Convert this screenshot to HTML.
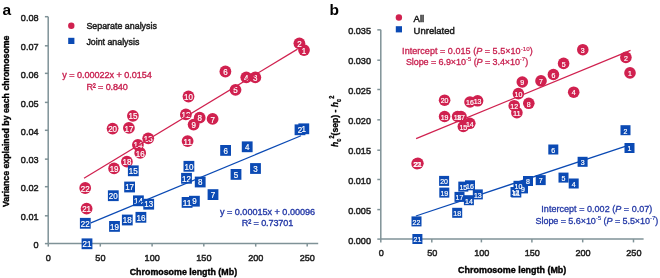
<!DOCTYPE html><html><head><meta charset="utf-8"><style>html,body{margin:0;padding:0;background:#fff;width:660px;height:278px;overflow:hidden}svg{display:block;filter:blur(0.35px)}</style></head><body>
<svg width="660" height="278" viewBox="0 0 660 278" font-family="'Liberation Sans', Arial, sans-serif">
<rect width="660" height="278" fill="#fff"/>
<g stroke="#7F9297" stroke-width="1.5" fill="none">
<line x1="48.2" y1="16.70" x2="48.2" y2="243.60"/>
<line x1="48.2" y1="243.60" x2="318.2" y2="243.60"/>
<line x1="44.9" y1="243.60" x2="48.2" y2="243.60"/>
<line x1="44.9" y1="215.80" x2="48.2" y2="215.80"/>
<line x1="44.9" y1="186.70" x2="48.2" y2="186.70"/>
<line x1="44.9" y1="159.15" x2="48.2" y2="159.15"/>
<line x1="44.9" y1="130.30" x2="48.2" y2="130.30"/>
<line x1="44.9" y1="102.40" x2="48.2" y2="102.40"/>
<line x1="44.9" y1="73.35" x2="48.2" y2="73.35"/>
<line x1="44.9" y1="45.80" x2="48.2" y2="45.80"/>
<line x1="44.9" y1="16.70" x2="48.2" y2="16.70"/>
<line x1="48.30" y1="243.60" x2="48.30" y2="246.6"/>
<line x1="100.30" y1="243.60" x2="100.30" y2="246.6"/>
<line x1="152.10" y1="243.60" x2="152.10" y2="246.6"/>
<line x1="203.80" y1="243.60" x2="203.80" y2="246.6"/>
<line x1="255.70" y1="243.60" x2="255.70" y2="246.6"/>
<line x1="307.20" y1="243.60" x2="307.20" y2="246.6"/>
</g>
<text x="38.6" y="248.00" font-size="9.8" fill="#1E1E1E" stroke="#1E1E1E" stroke-width="0.5" text-anchor="end" textLength="5.07" lengthAdjust="spacingAndGlyphs">0</text>
<text x="38.6" y="220.10" font-size="9.8" fill="#1E1E1E" stroke="#1E1E1E" stroke-width="0.5" text-anchor="end" textLength="17.73" lengthAdjust="spacingAndGlyphs">0.01</text>
<text x="38.6" y="191.30" font-size="9.8" fill="#1E1E1E" stroke="#1E1E1E" stroke-width="0.5" text-anchor="end" textLength="17.73" lengthAdjust="spacingAndGlyphs">0.02</text>
<text x="38.6" y="163.10" font-size="9.8" fill="#1E1E1E" stroke="#1E1E1E" stroke-width="0.5" text-anchor="end" textLength="17.73" lengthAdjust="spacingAndGlyphs">0.03</text>
<text x="38.6" y="134.60" font-size="9.8" fill="#1E1E1E" stroke="#1E1E1E" stroke-width="0.5" text-anchor="end" textLength="17.73" lengthAdjust="spacingAndGlyphs">0.04</text>
<text x="38.6" y="106.70" font-size="9.8" fill="#1E1E1E" stroke="#1E1E1E" stroke-width="0.5" text-anchor="end" textLength="17.73" lengthAdjust="spacingAndGlyphs">0.05</text>
<text x="38.6" y="77.70" font-size="9.8" fill="#1E1E1E" stroke="#1E1E1E" stroke-width="0.5" text-anchor="end" textLength="17.73" lengthAdjust="spacingAndGlyphs">0.06</text>
<text x="38.6" y="49.70" font-size="9.8" fill="#1E1E1E" stroke="#1E1E1E" stroke-width="0.5" text-anchor="end" textLength="17.73" lengthAdjust="spacingAndGlyphs">0.07</text>
<text x="38.6" y="21.30" font-size="9.8" fill="#1E1E1E" stroke="#1E1E1E" stroke-width="0.5" text-anchor="end" textLength="17.73" lengthAdjust="spacingAndGlyphs">0.08</text>
<text x="48.40" y="260.5" font-size="9.8" fill="#1E1E1E" stroke="#1E1E1E" stroke-width="0.5" text-anchor="middle" textLength="5.07" lengthAdjust="spacingAndGlyphs">0</text>
<text x="100.40" y="260.5" font-size="9.8" fill="#1E1E1E" stroke="#1E1E1E" stroke-width="0.5" text-anchor="middle" textLength="10.14" lengthAdjust="spacingAndGlyphs">50</text>
<text x="152.20" y="260.5" font-size="9.8" fill="#1E1E1E" stroke="#1E1E1E" stroke-width="0.5" text-anchor="middle" textLength="15.21" lengthAdjust="spacingAndGlyphs">100</text>
<text x="203.90" y="260.5" font-size="9.8" fill="#1E1E1E" stroke="#1E1E1E" stroke-width="0.5" text-anchor="middle" textLength="15.21" lengthAdjust="spacingAndGlyphs">150</text>
<text x="255.80" y="260.5" font-size="9.8" fill="#1E1E1E" stroke="#1E1E1E" stroke-width="0.5" text-anchor="middle" textLength="15.21" lengthAdjust="spacingAndGlyphs">200</text>
<text x="307.30" y="260.5" font-size="9.8" fill="#1E1E1E" stroke="#1E1E1E" stroke-width="0.5" text-anchor="middle" textLength="15.21" lengthAdjust="spacingAndGlyphs">250</text>
<text x="183.4" y="274.6" font-size="9.6" fill="#000" stroke="#000" stroke-width="0.4" font-weight="bold" text-anchor="middle" textLength="107.4" lengthAdjust="spacingAndGlyphs">Chromosome length (Mb)</text>
<text x="0" y="0" font-size="9.6" fill="#000" stroke="#000" stroke-width="0.4" font-weight="bold" text-anchor="middle" textLength="171.4" lengthAdjust="spacingAndGlyphs" transform="translate(8.9,121.3) rotate(-90)">Variance explained by each chromosome</text>
<text x="2.4" y="14.7" font-size="15.5" fill="#000" font-weight="bold">a</text>
<circle cx="71.3" cy="25.8" r="3.2" fill="#D0214F"/>
<rect x="68.2" y="37.8" width="6.2" height="6.2" fill="#0B4AB4"/>
<text x="86.4" y="29.3" font-size="9.8" fill="#1E1E1E" stroke="#1E1E1E" stroke-width="0.5" textLength="70.5" lengthAdjust="spacingAndGlyphs">Separate analysis</text>
<text x="86.4" y="44.8" font-size="9.8" fill="#1E1E1E" stroke="#1E1E1E" stroke-width="0.5" textLength="52.9" lengthAdjust="spacingAndGlyphs">Joint analysis</text>
<text x="62.2" y="78.4" font-size="9.1" fill="#C8204F" stroke="#C8204F" stroke-width="0.35" textLength="89.6" lengthAdjust="spacing">y = 0.00022x + 0.0154</text>
<text x="86.4" y="89.6" font-size="9.1" fill="#C8204F" stroke="#C8204F" stroke-width="0.35" textLength="41.4" lengthAdjust="spacing">R² = 0.840</text>
<text x="220" y="214.9" font-size="9.1" fill="#2338A6" stroke="#2338A6" stroke-width="0.35" textLength="95.1" lengthAdjust="spacing">y = 0.00015x + 0.00096</text>
<text x="241.8" y="225.5" font-size="9.1" fill="#2338A6" stroke="#2338A6" stroke-width="0.35" textLength="51.5" lengthAdjust="spacing">R² = 0.73701</text>
<circle cx="304.0" cy="50.1" r="5.9" fill="#D0214F"/>
<circle cx="299.4" cy="43.3" r="5.9" fill="#D0214F"/>
<circle cx="255.3" cy="77.4" r="5.9" fill="#D0214F"/>
<circle cx="246.3" cy="77.3" r="5.9" fill="#D0214F"/>
<circle cx="235.5" cy="89.8" r="5.9" fill="#D0214F"/>
<circle cx="225.4" cy="71.5" r="5.9" fill="#D0214F"/>
<circle cx="212.6" cy="118.9" r="5.9" fill="#D0214F"/>
<circle cx="199.7" cy="117.7" r="5.9" fill="#D0214F"/>
<circle cx="193.6" cy="124.6" r="5.9" fill="#D0214F"/>
<circle cx="188.5" cy="96.5" r="5.9" fill="#D0214F"/>
<circle cx="187.6" cy="141.1" r="5.9" fill="#D0214F"/>
<circle cx="185.9" cy="114.4" r="5.9" fill="#D0214F"/>
<circle cx="148.2" cy="138.3" r="5.9" fill="#D0214F"/>
<circle cx="137.9" cy="144.8" r="5.9" fill="#D0214F"/>
<circle cx="132.9" cy="115.8" r="5.9" fill="#D0214F"/>
<circle cx="140.2" cy="152.9" r="5.9" fill="#D0214F"/>
<circle cx="128.9" cy="127.9" r="5.9" fill="#D0214F"/>
<circle cx="126.9" cy="161.7" r="5.9" fill="#D0214F"/>
<circle cx="114.1" cy="168.4" r="5.9" fill="#D0214F"/>
<circle cx="112.6" cy="128.6" r="5.9" fill="#D0214F"/>
<circle cx="86.6" cy="208.7" r="5.9" fill="#D0214F"/>
<circle cx="85.2" cy="188.0" r="5.9" fill="#D0214F"/>
<g fill="#fff" stroke="#fff" stroke-width="0.2" font-size="8.9" font-weight="normal" text-anchor="middle">
<text x="304.0" y="53.70" textLength="4.45" lengthAdjust="spacingAndGlyphs">1</text>
<text x="299.4" y="46.90" textLength="4.45" lengthAdjust="spacingAndGlyphs">2</text>
<text x="255.3" y="81.00" textLength="4.45" lengthAdjust="spacingAndGlyphs">3</text>
<text x="246.3" y="80.90" textLength="4.45" lengthAdjust="spacingAndGlyphs">4</text>
<text x="235.5" y="93.40" textLength="4.45" lengthAdjust="spacingAndGlyphs">5</text>
<text x="225.4" y="75.10" textLength="4.45" lengthAdjust="spacingAndGlyphs">6</text>
<text x="212.6" y="122.50" textLength="4.45" lengthAdjust="spacingAndGlyphs">7</text>
<text x="199.7" y="121.30" textLength="4.45" lengthAdjust="spacingAndGlyphs">8</text>
<text x="193.6" y="128.20" textLength="4.45" lengthAdjust="spacingAndGlyphs">9</text>
<text x="188.5" y="100.10" textLength="8.90" lengthAdjust="spacingAndGlyphs">10</text>
<text x="187.6" y="144.70" textLength="8.90" lengthAdjust="spacingAndGlyphs">11</text>
<text x="185.9" y="118.00" textLength="8.90" lengthAdjust="spacingAndGlyphs">12</text>
<text x="148.2" y="141.90" textLength="8.90" lengthAdjust="spacingAndGlyphs">13</text>
<text x="137.9" y="148.40" textLength="8.90" lengthAdjust="spacingAndGlyphs">14</text>
<text x="132.9" y="119.40" textLength="8.90" lengthAdjust="spacingAndGlyphs">15</text>
<text x="140.2" y="156.50" textLength="8.90" lengthAdjust="spacingAndGlyphs">16</text>
<text x="128.9" y="131.50" textLength="8.90" lengthAdjust="spacingAndGlyphs">17</text>
<text x="126.9" y="165.30" textLength="8.90" lengthAdjust="spacingAndGlyphs">18</text>
<text x="114.1" y="172.00" textLength="8.90" lengthAdjust="spacingAndGlyphs">19</text>
<text x="112.6" y="132.20" textLength="8.90" lengthAdjust="spacingAndGlyphs">20</text>
<text x="86.6" y="212.30" textLength="8.90" lengthAdjust="spacingAndGlyphs">21</text>
<text x="85.2" y="191.60" textLength="8.90" lengthAdjust="spacingAndGlyphs">22</text>
</g>
<rect x="298.40" y="123.40" width="10.8" height="10.8" fill="#0B4AB4"/>
<rect x="294.60" y="124.40" width="10.8" height="10.8" fill="#0B4AB4"/>
<rect x="250.10" y="163.10" width="10.8" height="10.8" fill="#0B4AB4"/>
<rect x="241.80" y="141.40" width="10.8" height="10.8" fill="#0B4AB4"/>
<rect x="230.60" y="169.00" width="10.8" height="10.8" fill="#0B4AB4"/>
<rect x="220.20" y="145.00" width="10.8" height="10.8" fill="#0B4AB4"/>
<rect x="207.60" y="189.20" width="10.8" height="10.8" fill="#0B4AB4"/>
<rect x="194.80" y="176.60" width="10.8" height="10.8" fill="#0B4AB4"/>
<rect x="189.00" y="195.80" width="10.8" height="10.8" fill="#0B4AB4"/>
<rect x="183.50" y="160.90" width="10.8" height="10.8" fill="#0B4AB4"/>
<rect x="181.70" y="197.00" width="10.8" height="10.8" fill="#0B4AB4"/>
<rect x="181.10" y="172.90" width="10.8" height="10.8" fill="#0B4AB4"/>
<rect x="143.30" y="198.80" width="10.8" height="10.8" fill="#0B4AB4"/>
<rect x="133.00" y="195.40" width="10.8" height="10.8" fill="#0B4AB4"/>
<rect x="127.90" y="165.40" width="10.8" height="10.8" fill="#0B4AB4"/>
<rect x="135.50" y="211.90" width="10.8" height="10.8" fill="#0B4AB4"/>
<rect x="124.20" y="181.60" width="10.8" height="10.8" fill="#0B4AB4"/>
<rect x="121.90" y="214.60" width="10.8" height="10.8" fill="#0B4AB4"/>
<rect x="109.10" y="221.00" width="10.8" height="10.8" fill="#0B4AB4"/>
<rect x="107.90" y="190.30" width="10.8" height="10.8" fill="#0B4AB4"/>
<rect x="81.60" y="238.40" width="10.8" height="10.8" fill="#0B4AB4"/>
<rect x="79.90" y="217.90" width="10.8" height="10.8" fill="#0B4AB4"/>
<g fill="#fff" stroke="#fff" stroke-width="0.2" font-size="8.9" font-weight="normal" text-anchor="middle">
<text x="303.8" y="132.00" textLength="4.45" lengthAdjust="spacingAndGlyphs">1</text>
<text x="300.0" y="133.00" textLength="4.45" lengthAdjust="spacingAndGlyphs">2</text>
<text x="255.5" y="171.70" textLength="4.45" lengthAdjust="spacingAndGlyphs">3</text>
<text x="247.2" y="150.00" textLength="4.45" lengthAdjust="spacingAndGlyphs">4</text>
<text x="236.0" y="177.60" textLength="4.45" lengthAdjust="spacingAndGlyphs">5</text>
<text x="225.6" y="153.60" textLength="4.45" lengthAdjust="spacingAndGlyphs">6</text>
<text x="213.0" y="197.80" textLength="4.45" lengthAdjust="spacingAndGlyphs">7</text>
<text x="200.2" y="185.20" textLength="4.45" lengthAdjust="spacingAndGlyphs">8</text>
<text x="194.4" y="204.40" textLength="4.45" lengthAdjust="spacingAndGlyphs">9</text>
<text x="188.9" y="169.50" textLength="8.90" lengthAdjust="spacingAndGlyphs">10</text>
<text x="187.1" y="205.60" textLength="8.90" lengthAdjust="spacingAndGlyphs">11</text>
<text x="186.5" y="181.50" textLength="8.90" lengthAdjust="spacingAndGlyphs">12</text>
<text x="148.7" y="207.40" textLength="8.90" lengthAdjust="spacingAndGlyphs">13</text>
<text x="138.4" y="204.00" textLength="8.90" lengthAdjust="spacingAndGlyphs">14</text>
<text x="133.3" y="174.00" textLength="8.90" lengthAdjust="spacingAndGlyphs">15</text>
<text x="140.9" y="220.50" textLength="8.90" lengthAdjust="spacingAndGlyphs">16</text>
<text x="129.6" y="190.20" textLength="8.90" lengthAdjust="spacingAndGlyphs">17</text>
<text x="127.3" y="223.20" textLength="8.90" lengthAdjust="spacingAndGlyphs">18</text>
<text x="114.5" y="229.60" textLength="8.90" lengthAdjust="spacingAndGlyphs">19</text>
<text x="113.3" y="198.90" textLength="8.90" lengthAdjust="spacingAndGlyphs">20</text>
<text x="87.0" y="247.00" textLength="8.90" lengthAdjust="spacingAndGlyphs">21</text>
<text x="85.3" y="226.50" textLength="8.90" lengthAdjust="spacingAndGlyphs">22</text>
</g>
<line x1="84" y1="178.3" x2="297.5" y2="49.1" stroke="#D0214F" stroke-width="1.25"/>
<line x1="90.9" y1="222.9" x2="301" y2="135.71" stroke="#0B4AB4" stroke-width="1.25"/>
<g stroke="#7F9297" stroke-width="1.5" fill="none">
<line x1="380.8" y1="29.85" x2="380.8" y2="239.10"/>
<line x1="380.8" y1="239.10" x2="643.6" y2="239.10"/>
<line x1="377.3" y1="239.10" x2="380.8" y2="239.10"/>
<line x1="377.3" y1="209.60" x2="380.8" y2="209.60"/>
<line x1="377.3" y1="179.50" x2="380.8" y2="179.50"/>
<line x1="377.3" y1="150.20" x2="380.8" y2="150.20"/>
<line x1="377.3" y1="119.85" x2="380.8" y2="119.85"/>
<line x1="377.3" y1="89.50" x2="380.8" y2="89.50"/>
<line x1="377.3" y1="60.20" x2="380.8" y2="60.20"/>
<line x1="377.3" y1="29.85" x2="380.8" y2="29.85"/>
<line x1="380.80" y1="239.10" x2="380.80" y2="242.4"/>
<line x1="431.80" y1="239.10" x2="431.80" y2="242.4"/>
<line x1="481.40" y1="239.10" x2="481.40" y2="242.4"/>
<line x1="531.90" y1="239.10" x2="531.90" y2="242.4"/>
<line x1="582.70" y1="239.10" x2="582.70" y2="242.4"/>
<line x1="633.50" y1="239.10" x2="633.50" y2="242.4"/>
</g>
<text x="371" y="243.80" font-size="9.8" fill="#1E1E1E" stroke="#1E1E1E" stroke-width="0.5" text-anchor="end" textLength="22.8" lengthAdjust="spacingAndGlyphs">0.000</text>
<text x="371" y="213.80" font-size="9.8" fill="#1E1E1E" stroke="#1E1E1E" stroke-width="0.5" text-anchor="end" textLength="22.8" lengthAdjust="spacingAndGlyphs">0.005</text>
<text x="371" y="183.80" font-size="9.8" fill="#1E1E1E" stroke="#1E1E1E" stroke-width="0.5" text-anchor="end" textLength="22.8" lengthAdjust="spacingAndGlyphs">0.010</text>
<text x="371" y="154.20" font-size="9.8" fill="#1E1E1E" stroke="#1E1E1E" stroke-width="0.5" text-anchor="end" textLength="22.8" lengthAdjust="spacingAndGlyphs">0.015</text>
<text x="371" y="124.20" font-size="9.8" fill="#1E1E1E" stroke="#1E1E1E" stroke-width="0.5" text-anchor="end" textLength="22.8" lengthAdjust="spacingAndGlyphs">0.020</text>
<text x="371" y="93.80" font-size="9.8" fill="#1E1E1E" stroke="#1E1E1E" stroke-width="0.5" text-anchor="end" textLength="22.8" lengthAdjust="spacingAndGlyphs">0.025</text>
<text x="371" y="64.20" font-size="9.8" fill="#1E1E1E" stroke="#1E1E1E" stroke-width="0.5" text-anchor="end" textLength="22.8" lengthAdjust="spacingAndGlyphs">0.030</text>
<text x="371" y="34.40" font-size="9.8" fill="#1E1E1E" stroke="#1E1E1E" stroke-width="0.5" text-anchor="end" textLength="22.8" lengthAdjust="spacingAndGlyphs">0.035</text>
<text x="381.20" y="255.5" font-size="9.8" fill="#1E1E1E" stroke="#1E1E1E" stroke-width="0.5" text-anchor="middle" textLength="5.07" lengthAdjust="spacingAndGlyphs">0</text>
<text x="432.20" y="255.5" font-size="9.8" fill="#1E1E1E" stroke="#1E1E1E" stroke-width="0.5" text-anchor="middle" textLength="10.14" lengthAdjust="spacingAndGlyphs">50</text>
<text x="481.80" y="255.5" font-size="9.8" fill="#1E1E1E" stroke="#1E1E1E" stroke-width="0.5" text-anchor="middle" textLength="15.21" lengthAdjust="spacingAndGlyphs">100</text>
<text x="532.30" y="255.5" font-size="9.8" fill="#1E1E1E" stroke="#1E1E1E" stroke-width="0.5" text-anchor="middle" textLength="15.21" lengthAdjust="spacingAndGlyphs">150</text>
<text x="583.10" y="255.5" font-size="9.8" fill="#1E1E1E" stroke="#1E1E1E" stroke-width="0.5" text-anchor="middle" textLength="15.21" lengthAdjust="spacingAndGlyphs">200</text>
<text x="633.90" y="255.5" font-size="9.8" fill="#1E1E1E" stroke="#1E1E1E" stroke-width="0.5" text-anchor="middle" textLength="15.21" lengthAdjust="spacingAndGlyphs">250</text>
<text x="512.2" y="273.1" font-size="9.6" fill="#000" stroke="#000" stroke-width="0.4" font-weight="bold" text-anchor="middle" textLength="108.2" lengthAdjust="spacingAndGlyphs">Chromosome length (Mb)</text>
<text transform="translate(338.2,121.3) rotate(-90)" font-size="9.6" font-weight="bold" fill="#000" stroke="#000" stroke-width="0.3" text-anchor="middle" textLength="51.5" lengthAdjust="spacingAndGlyphs"><tspan font-style="italic">h</tspan><tspan font-size="6.3" dy="2.3">c</tspan><tspan font-size="6.3" dy="-6.3">2</tspan><tspan dy="4">(sep) - </tspan><tspan font-style="italic">h</tspan><tspan font-size="6.3" dy="2.3">c</tspan><tspan font-size="6.3" dy="-6.3">2</tspan></text>
<text x="329.6" y="14.6" font-size="15.5" fill="#000" font-weight="bold">b</text>
<circle cx="398.9" cy="17.5" r="3.2" fill="#D0214F"/>
<rect x="395.8" y="26.2" width="6.2" height="6.2" fill="#0B4AB4"/>
<text x="413.6" y="21.6" font-size="9.8" fill="#1E1E1E" stroke="#1E1E1E" stroke-width="0.5" textLength="10.6" lengthAdjust="spacingAndGlyphs">All</text>
<text x="413.6" y="33.6" font-size="9.8" fill="#1E1E1E" stroke="#1E1E1E" stroke-width="0.5" textLength="41.2" lengthAdjust="spacingAndGlyphs">Unrelated</text>
<text x="402.1" y="54.4" font-size="9.0" fill="#C8204F" stroke="#C8204F" stroke-width="0.3" textLength="130.6" lengthAdjust="spacing">Intercept = 0.015 (<tspan font-style="italic">P</tspan> = 5.5×10<tspan font-size="6.2" dy="-3.6" stroke-width="0.15">-10</tspan><tspan dy="3.6">)</tspan></text>
<text x="405.9" y="64.6" font-size="9.0" fill="#C8204F" stroke="#C8204F" stroke-width="0.3" textLength="122.3" lengthAdjust="spacing">Slope = 6.9×10<tspan font-size="6.2" dy="-3.6" stroke-width="0.15">-5</tspan><tspan dy="3.6"> (</tspan><tspan font-style="italic">P</tspan> = 3.4×10<tspan font-size="6.2" dy="-3.6" stroke-width="0.15">-7</tspan><tspan dy="3.6">)</tspan></text>
<text x="541.3" y="212" font-size="9.0" fill="#2338A6" stroke="#2338A6" stroke-width="0.3" textLength="111" lengthAdjust="spacing">Intercept = 0.002 (<tspan font-style="italic">P</tspan> = 0.07)</text>
<text x="535.6" y="223.6" font-size="9.0" fill="#2338A6" stroke="#2338A6" stroke-width="0.3" textLength="122.7" lengthAdjust="spacing">Slope = 5.6×10<tspan font-size="6.2" dy="-3.6" stroke-width="0.15">-5</tspan><tspan dy="3.6"> (</tspan><tspan font-style="italic">P</tspan> = 5.5×10<tspan font-size="6.2" dy="-3.6" stroke-width="0.15">-7</tspan><tspan dy="3.6">)</tspan></text>
<circle cx="630.0" cy="72.9" r="5.8" fill="#D0214F"/>
<circle cx="625.9" cy="57.4" r="5.8" fill="#D0214F"/>
<circle cx="582.8" cy="49.7" r="5.8" fill="#D0214F"/>
<circle cx="573.7" cy="92.2" r="5.8" fill="#D0214F"/>
<circle cx="563.6" cy="63.4" r="5.8" fill="#D0214F"/>
<circle cx="553.4" cy="74.5" r="5.8" fill="#D0214F"/>
<circle cx="541.0" cy="80.9" r="5.8" fill="#D0214F"/>
<circle cx="528.8" cy="103.3" r="5.8" fill="#D0214F"/>
<circle cx="522.3" cy="82.0" r="5.8" fill="#D0214F"/>
<circle cx="518.4" cy="93.6" r="5.8" fill="#D0214F"/>
<circle cx="516.9" cy="112.7" r="5.8" fill="#D0214F"/>
<circle cx="514.2" cy="105.7" r="5.8" fill="#D0214F"/>
<circle cx="477.6" cy="100.8" r="5.8" fill="#D0214F"/>
<circle cx="469.8" cy="123.3" r="5.8" fill="#D0214F"/>
<circle cx="463.3" cy="126.5" r="5.8" fill="#D0214F"/>
<circle cx="470.0" cy="102.0" r="5.8" fill="#D0214F"/>
<circle cx="461.0" cy="116.5" r="5.8" fill="#D0214F"/>
<circle cx="457.6" cy="116.5" r="5.8" fill="#D0214F"/>
<circle cx="444.6" cy="116.5" r="5.8" fill="#D0214F"/>
<circle cx="444.6" cy="100.2" r="5.8" fill="#D0214F"/>
<circle cx="417.9" cy="163.3" r="5.8" fill="#D0214F"/>
<circle cx="417.1" cy="163.7" r="5.8" fill="#D0214F"/>
<line x1="416.1" y1="138.6" x2="630.5" y2="50.3" stroke="#D0214F" stroke-width="1.25"/>
<g fill="#fff" stroke="#fff" stroke-width="0.2" font-size="7.8" font-weight="normal" text-anchor="middle">
<text x="630.0" y="76.10" textLength="3.90" lengthAdjust="spacingAndGlyphs">1</text>
<text x="625.9" y="60.60" textLength="3.90" lengthAdjust="spacingAndGlyphs">2</text>
<text x="582.8" y="52.90" textLength="3.90" lengthAdjust="spacingAndGlyphs">3</text>
<text x="573.7" y="95.40" textLength="3.90" lengthAdjust="spacingAndGlyphs">4</text>
<text x="563.6" y="66.60" textLength="3.90" lengthAdjust="spacingAndGlyphs">5</text>
<text x="553.4" y="77.70" textLength="3.90" lengthAdjust="spacingAndGlyphs">6</text>
<text x="541.0" y="84.10" textLength="3.90" lengthAdjust="spacingAndGlyphs">7</text>
<text x="528.8" y="106.50" textLength="3.90" lengthAdjust="spacingAndGlyphs">8</text>
<text x="522.3" y="85.20" textLength="3.90" lengthAdjust="spacingAndGlyphs">9</text>
<text x="518.4" y="96.80" textLength="7.80" lengthAdjust="spacingAndGlyphs">10</text>
<text x="516.9" y="115.90" textLength="7.80" lengthAdjust="spacingAndGlyphs">11</text>
<text x="514.2" y="108.90" textLength="7.80" lengthAdjust="spacingAndGlyphs">12</text>
<text x="477.6" y="104.00" textLength="7.80" lengthAdjust="spacingAndGlyphs">13</text>
<text x="469.8" y="126.50" textLength="7.80" lengthAdjust="spacingAndGlyphs">14</text>
<text x="463.3" y="129.70" textLength="7.80" lengthAdjust="spacingAndGlyphs">15</text>
<text x="470.0" y="105.20" textLength="7.80" lengthAdjust="spacingAndGlyphs">16</text>
<text x="461.0" y="119.70" textLength="7.80" lengthAdjust="spacingAndGlyphs">17</text>
<text x="457.6" y="119.70" textLength="7.80" lengthAdjust="spacingAndGlyphs">18</text>
<text x="444.6" y="119.70" textLength="7.80" lengthAdjust="spacingAndGlyphs">19</text>
<text x="444.6" y="103.40" textLength="7.80" lengthAdjust="spacingAndGlyphs">20</text>
<text x="417.9" y="166.50" textLength="7.80" lengthAdjust="spacingAndGlyphs">21</text>
<text x="417.1" y="166.90" textLength="7.80" lengthAdjust="spacingAndGlyphs">22</text>
</g>
<rect x="624.50" y="143.00" width="10.0" height="10.0" fill="#0B4AB4"/>
<rect x="620.50" y="125.20" width="10.0" height="10.0" fill="#0B4AB4"/>
<rect x="577.60" y="156.80" width="10.0" height="10.0" fill="#0B4AB4"/>
<rect x="568.70" y="178.50" width="10.0" height="10.0" fill="#0B4AB4"/>
<rect x="558.50" y="172.60" width="10.0" height="10.0" fill="#0B4AB4"/>
<rect x="548.30" y="144.50" width="10.0" height="10.0" fill="#0B4AB4"/>
<rect x="535.70" y="175.10" width="10.0" height="10.0" fill="#0B4AB4"/>
<rect x="523.00" y="176.00" width="10.0" height="10.0" fill="#0B4AB4"/>
<rect x="518.00" y="183.40" width="10.0" height="10.0" fill="#0B4AB4"/>
<rect x="513.50" y="180.80" width="10.0" height="10.0" fill="#0B4AB4"/>
<rect x="511.30" y="187.50" width="10.0" height="10.0" fill="#0B4AB4"/>
<rect x="510.50" y="187.00" width="10.0" height="10.0" fill="#0B4AB4"/>
<rect x="472.80" y="189.40" width="10.0" height="10.0" fill="#0B4AB4"/>
<rect x="463.90" y="195.20" width="10.0" height="10.0" fill="#0B4AB4"/>
<rect x="458.30" y="181.60" width="10.0" height="10.0" fill="#0B4AB4"/>
<rect x="465.00" y="180.30" width="10.0" height="10.0" fill="#0B4AB4"/>
<rect x="454.50" y="191.90" width="10.0" height="10.0" fill="#0B4AB4"/>
<rect x="452.20" y="207.80" width="10.0" height="10.0" fill="#0B4AB4"/>
<rect x="439.30" y="187.60" width="10.0" height="10.0" fill="#0B4AB4"/>
<rect x="439.10" y="175.90" width="10.0" height="10.0" fill="#0B4AB4"/>
<rect x="412.40" y="234.00" width="10.0" height="10.0" fill="#0B4AB4"/>
<rect x="411.50" y="216.40" width="10.0" height="10.0" fill="#0B4AB4"/>
<line x1="415.9" y1="216.0" x2="626" y2="146.04" stroke="#0B4AB4" stroke-width="1.25"/>
<g fill="#fff" stroke="#fff" stroke-width="0.2" font-size="7.8" font-weight="normal" text-anchor="middle">
<text x="629.5" y="151.30" textLength="3.90" lengthAdjust="spacingAndGlyphs">1</text>
<text x="625.5" y="133.50" textLength="3.90" lengthAdjust="spacingAndGlyphs">2</text>
<text x="582.6" y="165.10" textLength="3.90" lengthAdjust="spacingAndGlyphs">3</text>
<text x="573.7" y="186.80" textLength="3.90" lengthAdjust="spacingAndGlyphs">4</text>
<text x="563.5" y="180.90" textLength="3.90" lengthAdjust="spacingAndGlyphs">5</text>
<text x="553.3" y="152.80" textLength="3.90" lengthAdjust="spacingAndGlyphs">6</text>
<text x="540.7" y="183.40" textLength="3.90" lengthAdjust="spacingAndGlyphs">7</text>
<text x="528.0" y="184.30" textLength="3.90" lengthAdjust="spacingAndGlyphs">8</text>
<text x="523.0" y="191.70" textLength="3.90" lengthAdjust="spacingAndGlyphs">9</text>
<text x="518.5" y="189.10" textLength="7.80" lengthAdjust="spacingAndGlyphs">10</text>
<text x="516.3" y="195.80" textLength="7.80" lengthAdjust="spacingAndGlyphs">11</text>
<text x="515.5" y="195.30" textLength="7.80" lengthAdjust="spacingAndGlyphs">12</text>
<text x="477.8" y="197.70" textLength="7.80" lengthAdjust="spacingAndGlyphs">13</text>
<text x="468.9" y="203.50" textLength="7.80" lengthAdjust="spacingAndGlyphs">14</text>
<text x="463.3" y="189.90" textLength="7.80" lengthAdjust="spacingAndGlyphs">15</text>
<text x="470.0" y="188.60" textLength="7.80" lengthAdjust="spacingAndGlyphs">16</text>
<text x="459.5" y="200.20" textLength="7.80" lengthAdjust="spacingAndGlyphs">17</text>
<text x="457.2" y="216.10" textLength="7.80" lengthAdjust="spacingAndGlyphs">18</text>
<text x="444.3" y="195.90" textLength="7.80" lengthAdjust="spacingAndGlyphs">19</text>
<text x="444.1" y="184.20" textLength="7.80" lengthAdjust="spacingAndGlyphs">20</text>
<text x="417.4" y="242.30" textLength="7.80" lengthAdjust="spacingAndGlyphs">21</text>
<text x="416.5" y="224.70" textLength="7.80" lengthAdjust="spacingAndGlyphs">22</text>
</g>
</svg></body></html>
